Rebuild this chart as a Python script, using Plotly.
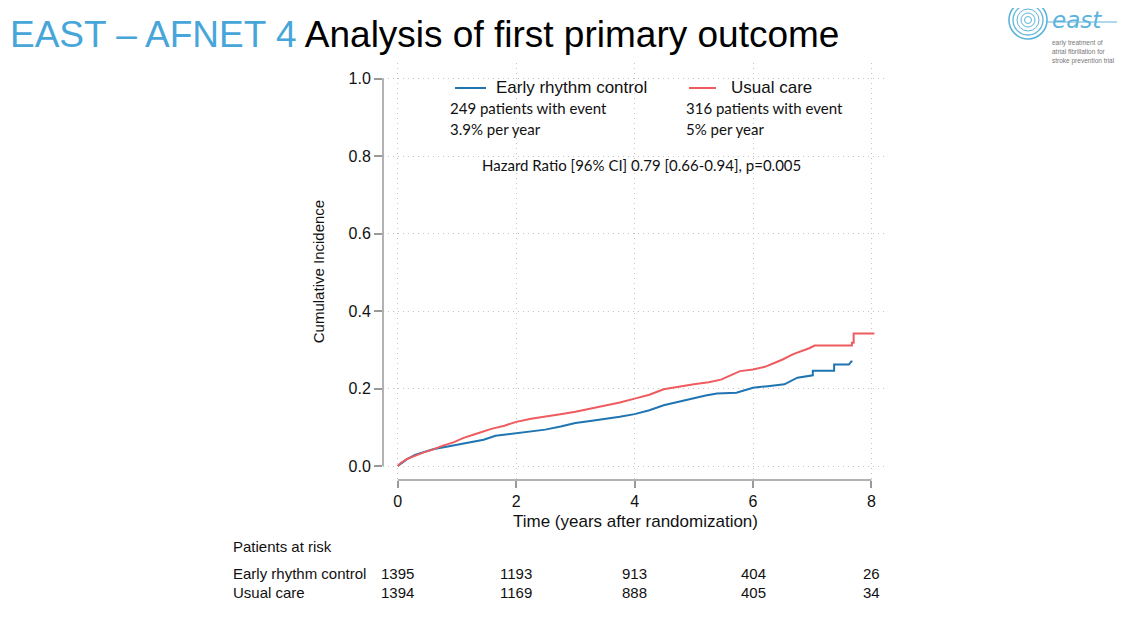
import plotly.graph_objects as go

# ---------------- data ----------------
erc_t = [0, 0.05, 0.15, 0.29, 0.45, 0.61, 0.8, 0.94, 1.1, 1.26, 1.45, 1.65, 2.0, 2.25, 2.49, 2.75,
         3.0, 3.25, 3.52, 3.75, 4.0, 4.25, 4.49, 4.75, 5.0, 5.2, 5.39, 5.72, 6.0, 6.25, 6.53, 6.75,
         7.01, 7.01, 7.37, 7.37, 7.62, 7.66, 7.68]
erc_y = [0, 0.006, 0.017, 0.029, 0.037, 0.044, 0.049, 0.053, 0.057, 0.061, 0.068, 0.078, 0.084, 0.089,
         0.094, 0.102, 0.111, 0.116, 0.121, 0.127, 0.134, 0.144, 0.157, 0.167, 0.175, 0.182, 0.187,
         0.189, 0.202, 0.206, 0.211, 0.228, 0.234, 0.246, 0.246, 0.262, 0.262, 0.270, 0.270]

uc_t = [0, 0.05, 0.15, 0.29, 0.45, 0.6, 0.75, 0.94, 1.1, 1.3, 1.58, 1.8, 2.0, 2.25, 2.55, 2.8, 3.0,
        3.25, 3.52, 3.75, 4.0, 4.25, 4.49, 4.75, 5.0, 5.25, 5.46, 5.62, 5.78, 6.0, 6.2, 6.36, 6.5,
        6.68, 6.85, 6.95, 7.04, 7.67, 7.67, 7.70, 7.70, 8.05]
uc_y = [0, 0.008, 0.018, 0.027, 0.036, 0.043, 0.052, 0.061, 0.072, 0.082, 0.096, 0.104, 0.114, 0.122,
        0.130, 0.135, 0.140, 0.148, 0.157, 0.164, 0.174, 0.184, 0.198, 0.205, 0.211, 0.216, 0.223,
        0.234, 0.245, 0.249, 0.256, 0.266, 0.275, 0.289, 0.298, 0.304, 0.311, 0.311, 0.318, 0.318,
        0.342, 0.342]

x_ticks = [0, 2, 4, 6, 8]
y_ticks = [0.0, 0.2, 0.4, 0.6, 0.8, 1.0]
y_tick_labels = ["0.0", "0.2", "0.4", "0.6", "0.8", "1.0"]

groups = ["Early rhythm control", "Usual care"]
at_risk_erc = [1395, 1193, 913, 404, 26]
at_risk_uc = [1394, 1169, 888, 405, 34]
events = ["249 patients with event", "316 patients with event"]
rates = ["3.9% per year", "5% per year"]
hr_text = "Hazard Ratio [96% CI] 0.79 [0.66-0.94], p=0.005"

BLUE = "#1f74b1"
RED = "#ef5b5f"
TITLE_BLUE = "#47a6d9"

# ---------------- layout helpers (page pixel -> paper) ----------------
OX, OY = 8, 8           # page body margin offset
W, H = 1125, 632
L, R, T, B = 375, 245, 55, 160
PW, PH = W - L - R, H - T - B


def px(x):
    return (x - OX - L) / PW


def py(y):
    return (H - B - (y - OY)) / PH


fig = go.Figure()
fig.add_trace(go.Scatter(x=erc_t, y=erc_y, mode="lines", line=dict(color=BLUE, width=2),
                         name=groups[0], showlegend=False))
fig.add_trace(go.Scatter(x=uc_t, y=uc_y, mode="lines", line=dict(color=RED, width=2),
                         name=groups[1], showlegend=False))

SANS = "Liberation Sans, Arial, sans-serif"
AX_FONT = dict(family=SANS, size=16, color="#111111")
GRID = dict(showgrid=True, gridcolor="#c4c4c4", griddash="1px,4px", gridwidth=1)

fig.update_layout(
    width=W, height=H,
    margin=dict(l=L, r=R, t=T, b=B),
    paper_bgcolor="white", plot_bgcolor="white",
    font=AX_FONT,
    xaxis=dict(range=[-0.25, 8.28], tickvals=x_ticks, ticktext=[str(v) for v in x_ticks],
               showline=False, zeroline=False, **GRID,
               ticks="outside", ticklen=7, tickcolor="#999999",
               tickwidth=1.5, tickfont=AX_FONT, fixedrange=True,
               title=dict(text="Time (years after randomization)", font=dict(size=17), standoff=5)),
    yaxis=dict(range=[-0.036, 1.04], tickvals=y_ticks, ticktext=y_tick_labels,
               showline=False, zeroline=False, **GRID,
               ticks="outside", ticklen=8, tickcolor="#999999",
               tickwidth=1.5, tickfont=AX_FONT, fixedrange=True,
               title=dict(text="Cumulative Incidence", font=dict(size=15), standoff=20)),
)

# axis lines (R style, span data range only)
fig.add_shape(type="line", xref="x", yref="paper", x0=x_ticks[0], x1=x_ticks[-1], y0=0, y1=0,
              line=dict(color="#999999", width=1.5))
fig.add_shape(type="line", xref="paper", yref="y", x0=0, x1=0, y0=y_ticks[0], y1=y_ticks[-1],
              line=dict(color="#999999", width=1.5))

# legend
fig.add_shape(type="line", xref="paper", yref="paper", x0=px(455), x1=px(486), y0=py(88), y1=py(88),
              line=dict(color=BLUE, width=2))
fig.add_shape(type="line", xref="paper", yref="paper", x0=px(689), x1=px(716), y0=py(88), y1=py(88),
              line=dict(color=RED, width=2))
fig.add_annotation(xref="paper", yref="paper", x=px(494), y=py(88), text=groups[0], showarrow=False,
                   xanchor="left", yanchor="middle", font=dict(size=17))
fig.add_annotation(xref="paper", yref="paper", x=px(729), y=py(88), text=groups[1], showarrow=False,
                   xanchor="left", yanchor="middle", font=dict(size=17))

STAT_FONT = dict(family="Lato, Open Sans, sans-serif", size=15, color="#111111")
for xx, ev, rt in [(448, events[0], rates[0]), (684, events[1], rates[1])]:
    fig.add_annotation(xref="paper", yref="paper", x=px(xx), y=py(108), text=ev, showarrow=False,
                       xanchor="left", yanchor="middle", font=STAT_FONT)
    fig.add_annotation(xref="paper", yref="paper", x=px(xx), y=py(129), text=rt, showarrow=False,
                       xanchor="left", yanchor="middle", font=STAT_FONT)
fig.add_annotation(xref="paper", yref="paper", x=px(641), y=py(165), text=hr_text, showarrow=False,
                   xanchor="center", yanchor="middle", font=STAT_FONT)

# at-risk table
TAB_FONT = dict(family=SANS, size=15, color="#111111")
fig.add_annotation(xref="paper", yref="paper", x=px(231), y=py(546), text="Patients at risk",
                   showarrow=False, xanchor="left", yanchor="middle", font=TAB_FONT)
for row_y, name, vals in [(573, groups[0], at_risk_erc), (592, groups[1], at_risk_uc)]:
    fig.add_annotation(xref="paper", yref="paper", x=px(231), y=py(row_y), text=name,
                       showarrow=False, xanchor="left", yanchor="middle", font=TAB_FONT)
    for t, v in zip(x_ticks, vals):
        fig.add_annotation(xref="x", yref="paper", x=t, y=py(row_y), text=str(v),
                           showarrow=False, xanchor="center", yanchor="middle", font=TAB_FONT)

# title
fig.add_annotation(xref="paper", yref="paper", x=px(8), y=py(35),
                   text=f"<span style='color:{TITLE_BLUE}'>EAST – AFNET 4</span> "
                        f"<span style='color:#000000'>Analysis of first primary outcome</span>",
                   showarrow=False, xanchor="left", yanchor="middle",
                   font=dict(family=SANS, size=37))

# logo
LOGO = "#5cb3dc"
cx, cy = 1028, 20
for r, w in [(19, 1.6), (15, 1.3), (11, 1.0), (7, 1.0), (3.5, 1.0)]:
    fig.add_shape(type="circle", xref="paper", yref="paper",
                  x0=px(cx - r), x1=px(cx + r), y0=py(cy + r), y1=py(cy - r),
                  line=dict(color=LOGO, width=w))
fig.add_annotation(xref="paper", yref="paper", x=px(1050), y=py(20), text="<i>east</i>",
                   showarrow=False, xanchor="left", yanchor="middle",
                   font=dict(family="DejaVu Sans, sans-serif", size=23, color=LOGO))
fig.add_shape(type="line", xref="paper", yref="paper", x0=px(1047), x1=px(1120), y0=py(22), y1=py(22),
              line=dict(color=LOGO, width=1))
for i, line in enumerate(["early treatment of", "atrial fibrillation for", "stroke prevention trial"]):
    fig.add_annotation(xref="paper", yref="paper", x=px(1050), y=py(43 + 9 * i), text=line,
                       showarrow=False, xanchor="left", yanchor="middle",
                       font=dict(family=SANS, size=6.5, color="#777777"))

fig.write_html("out.html")
